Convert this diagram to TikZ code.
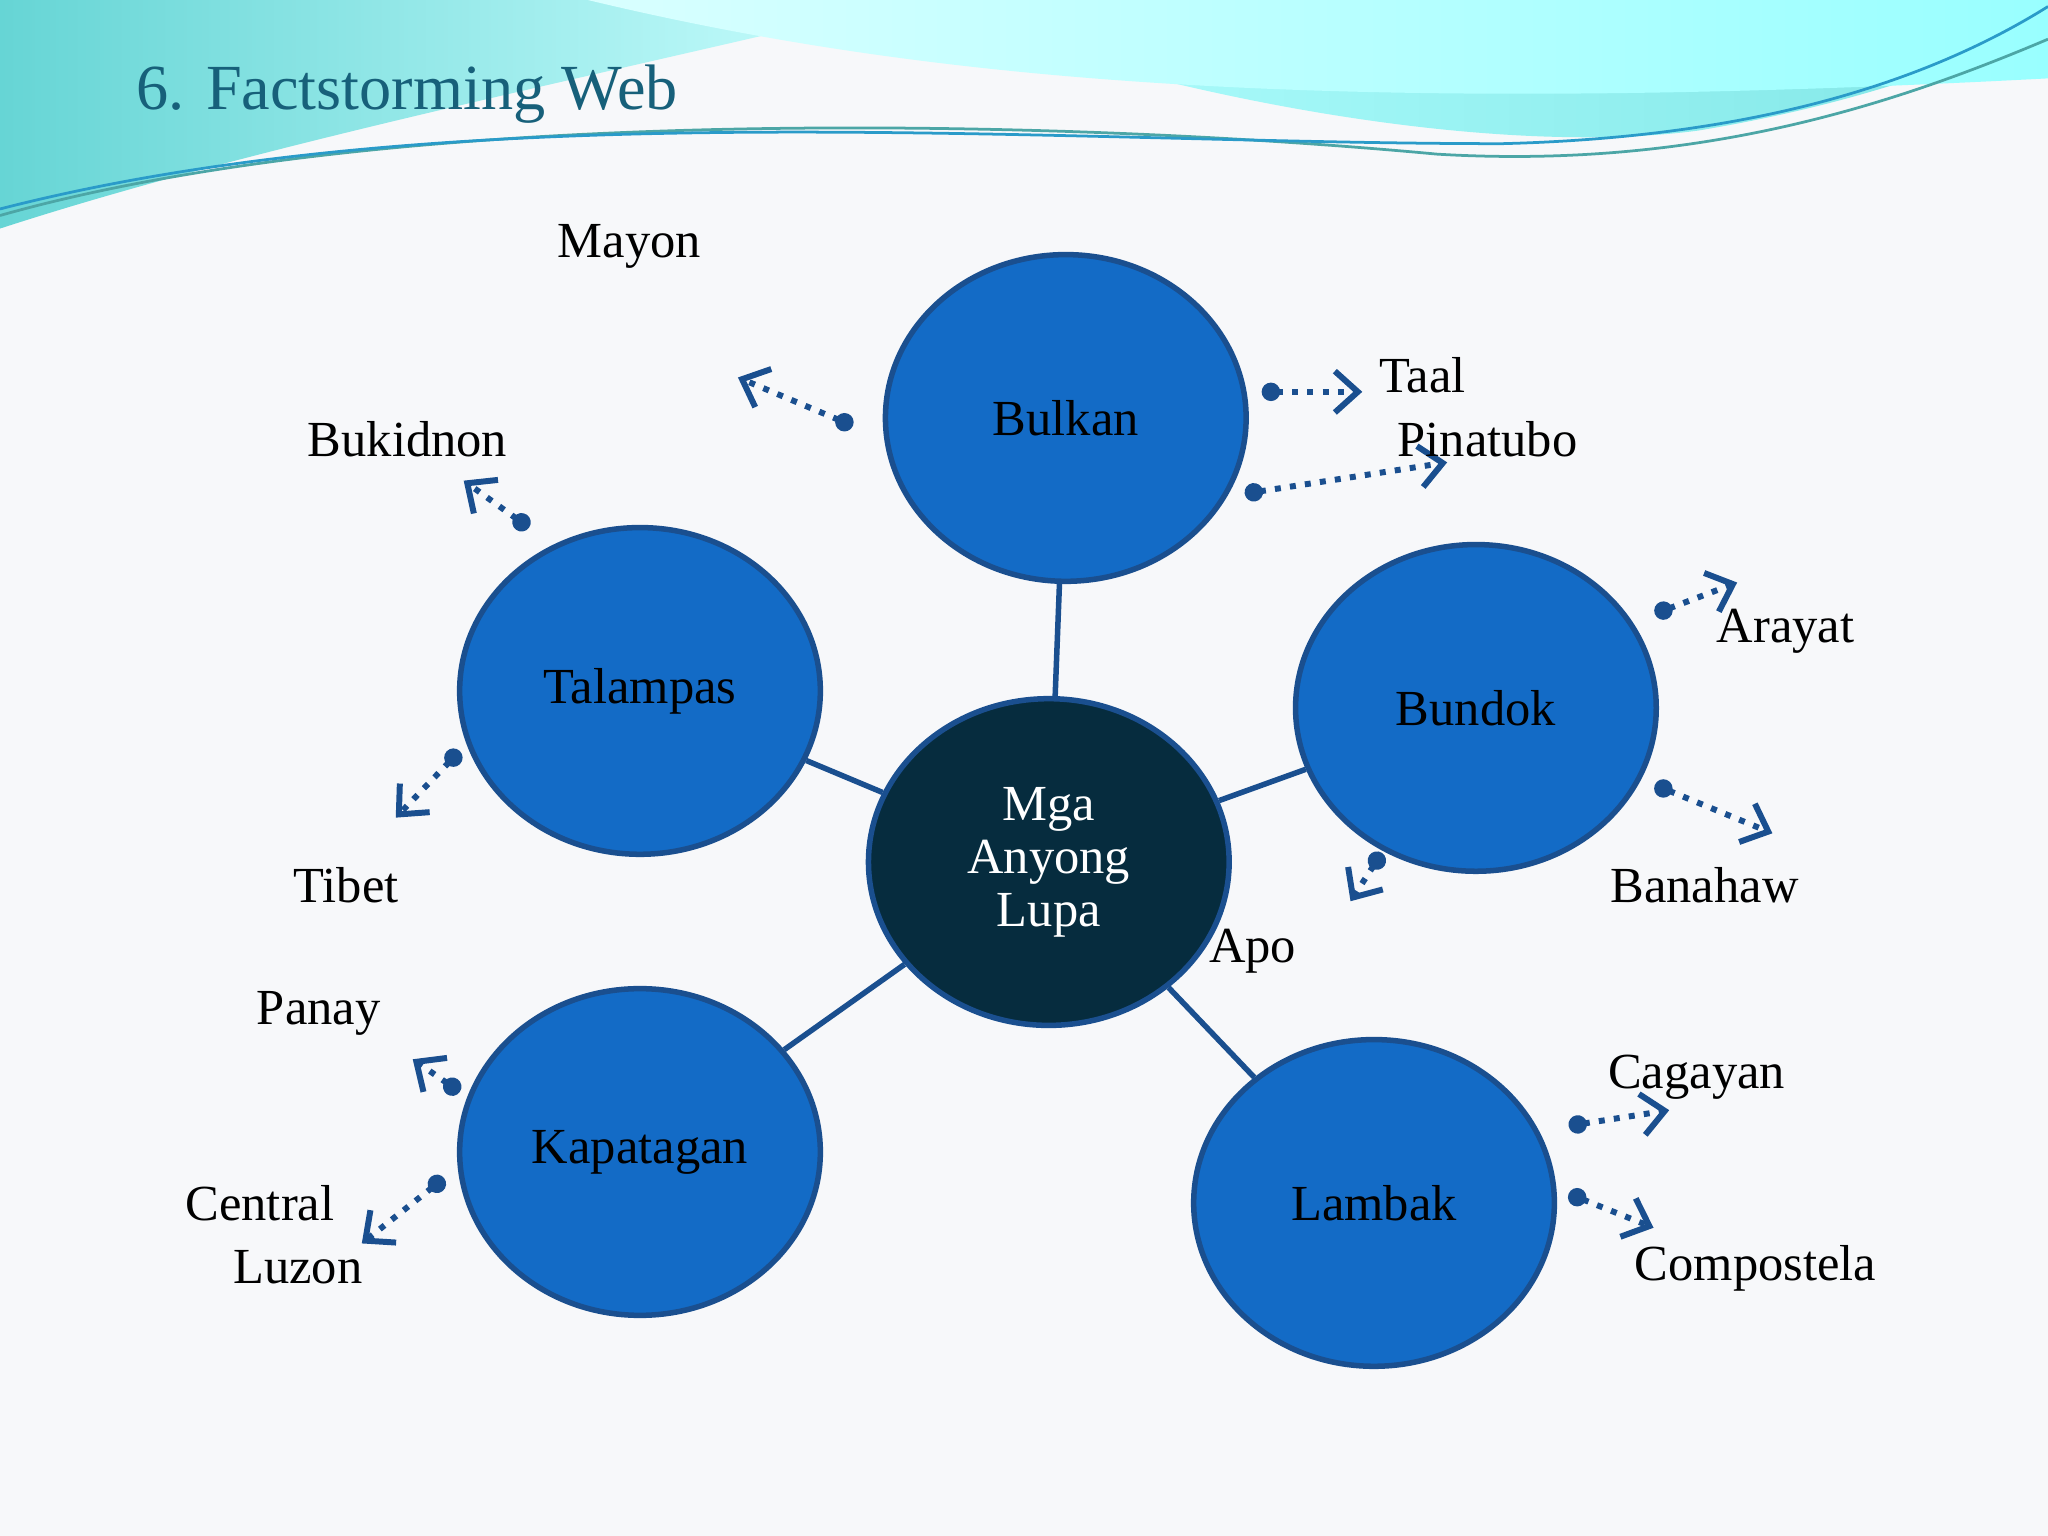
\documentclass[tikz,border=0pt]{standalone}
\usepackage{fontspec}
\setmainfont{Liberation Serif}
\usetikzlibrary{arrows.meta,shapes.geometric}
\definecolor{bg}{HTML}{F7F8FA}
\definecolor{nodefill}{HTML}{136BC6}
\definecolor{nodeedge}{HTML}{1A4F8F}
\definecolor{hub}{HTML}{062C3E}
\definecolor{ttl}{HTML}{17607A}
\definecolor{arr}{HTML}{1A4F8F}
\begin{document}
\begin{tikzpicture}[x=0.01cm,y=-0.01cm,
  topic/.style={ellipse,draw=nodeedge,line width=1.2pt,fill=nodefill,minimum width=276\pgflinewidth*0+2.76cm,minimum height=2.5cm,font=\fontsize{11}{13}\selectfont,text=black},
  link/.style={draw=nodeedge,line width=1.2pt},
  fact/.style={arr,line width=1.3pt,dotted,{Circle[length=4pt,sep=0pt]}-{Straight Barb[length=5pt,width=9pt,line width=1.3pt]}},
  lbl/.style={font=\fontsize{11}{13}\selectfont,text=black}]
\useasboundingbox (0,0) rectangle (1568,1176);
\fill[bg] (0,0) rectangle (1568,1176);
% waves
\shade[left color=cyan!45!teal!60,right color=cyan!20] (0,0) -- (0,175) .. controls (200,110) and (450,60) .. (700,0) -- cycle;
\shade[left color=cyan!30,right color=teal!40!cyan!50] (690,0) .. controls (900,80) and (1150,120) .. (1300,100) .. controls (1420,80) and (1500,50) .. (1568,20) -- (1568,0) -- cycle;
\shade[left color=cyan!15,right color=cyan!40] (450,0) .. controls (700,60) and (1000,90) .. (1568,60) -- (1568,0) -- cycle;
\draw[teal!70,line width=0.6pt] (0,165) .. controls (300,80) and (800,90) .. (1100,118) .. controls (1300,130) and (1450,80) .. (1568,30);
\draw[cyan!60!teal,line width=0.6pt] (0,160) .. controls (350,70) and (800,110) .. (1150,110) .. controls (1350,105) and (1480,60) .. (1568,5);
\node[anchor=west,text=ttl,font=\fontsize{14}{16}\selectfont] (title) at (92,72) {6. Factstorming Web};
% nodes
\node[topic] (bulkan) at (816,320) {Bulkan};
\node[topic] (talampas) at (490,529) {Talampas};
\node[topic,fill=hub,text=white,align=center,font=\fontsize{11}{11.5}\selectfont] (hub) at (803,660) {Mga\\Anyong\\Lupa};
\node[topic] (bundok) at (1130,542) {Bundok};
\node[topic] (kapatagan) at (490,882) {Kapatagan};
\node[topic] (lambak) at (1052,921) {Lambak};
\draw[link] (hub) -- (bulkan);
\draw[link] (hub) -- (talampas);
\draw[link] (hub) -- (bundok);
\draw[link] (hub) -- (kapatagan);
\draw[link] (hub) -- (lambak);
% fact coordinates
\foreach \n/\a/\b in {a/653,326,b/966,300,c/953,378,d/405,404,e/352,575,f/1267,470,g/1267,601,h/1058,653,i/352,836,j/340,902,k/1201,862,l/1201,914}{}
\coordinate (s1) at (653,326); \coordinate (e1) at (565,289);
\coordinate (s2) at (966,300); \coordinate (e2) at (1043,300);
\coordinate (s3) at (953,378); \coordinate (e3) at (1108,354);
\coordinate (s4) at (405,404); \coordinate (e4) at (355,368);
\coordinate (s5) at (352,575); \coordinate (e5) at (303,626);
\coordinate (s6) at (1267,470); \coordinate (e6) at (1330,446);
\coordinate (s7) at (1267,601); \coordinate (e7) at (1357,638);
\coordinate (s8) at (1058,653); \coordinate (e8) at (1034,690);
\coordinate (s9) at (352,836); \coordinate (e9) at (316,811);
\coordinate (s10) at (340,902); \coordinate (e10) at (277,952);
\coordinate (s11) at (1201,862); \coordinate (e11) at (1278,850);
\coordinate (s12) at (1201,914); \coordinate (e12) at (1266,940);
\foreach \i in {1,...,12}{\draw[fact] (s\i) -- (e\i);}
% labels
\node[lbl] (mayon) at (482,189) {Mayon};
\node[lbl] (taal) at (1089,287) {Taal};
\node[lbl] (pinatubo) at (1139,336) {Pinatubo};
\node[lbl] (bukidnon) at (312,336) {Bukidnon};
\node[lbl] (arayat) at (1367,483) {Arayat};
\node[lbl] (tibet) at (265,678) {Tibet};
\node[lbl] (banahaw) at (1305,678) {Banahaw};
\node[lbl] (apo) at (959,728) {Apo};
\node[lbl] (panay) at (244,776) {Panay};
\node[lbl] (cagayan) at (1299,825) {Cagayan};
\node[lbl] (central) at (199,921) {Central};
\node[lbl] (luzon) at (228,970) {Luzon};
\node[lbl] (compostela) at (1344,971) {Compostela};
\end{tikzpicture}
\end{document}
